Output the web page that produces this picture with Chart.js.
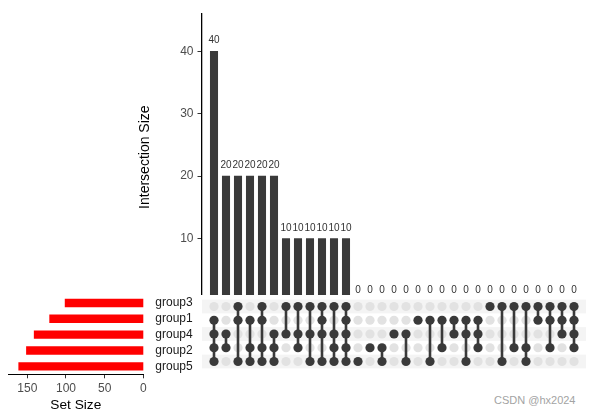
<!DOCTYPE html>
<html><head><meta charset="utf-8">
<script src="https://cdn.jsdelivr.net/npm/chart.js@4.4.1/dist/chart.umd.min.js"></script>
<style>
html,body{margin:0;padding:0;background:#fff;overflow:hidden;}
#wrap{position:relative;width:592px;height:415px;background:#fff;}
#clipA{position:absolute;left:0;top:0;width:592px;height:295px;overflow:hidden;}
#cA{position:absolute;left:0;top:0;width:592px;height:301px;}
#cB{position:absolute;left:0;top:295px;width:592px;height:78px;}
#cC{position:absolute;left:0;top:295px;width:202px;height:120px;}
#wm{position:absolute;left:494px;top:394px;font:11px 'Liberation Sans',Arial,sans-serif;line-height:13px;color:#a3a3a3;white-space:nowrap;}
</style></head>
<body><div id="wrap">
<div id="clipA"><canvas id="cA" width="592" height="301"></canvas></div>
<canvas id="cB" width="592" height="78"></canvas>
<canvas id="cC" width="202" height="120"></canvas>
<div id="wm">CSDN @hx2024</div>
</div>
<script>
const setNames = ['group3', 'group1', 'group4', 'group2', 'group5'];
const setSizes = [100, 120, 140, 150, 160];
const intersectionSizes = [40, 20, 20, 20, 20, 20, 10, 10, 10, 10, 10, 10,
  0, 0, 0, 0, 0, 0, 0, 0, 0, 0, 0, 0, 0, 0, 0, 0, 0, 0, 0];
const intersectionSets = [
  ['group1', 'group4', 'group2', 'group5'],
  ['group4', 'group2'],
  ['group3', 'group1', 'group5'],
  ['group1', 'group2', 'group5'],
  ['group3', 'group1', 'group2', 'group5'],
  ['group4', 'group2', 'group5'],
  ['group3', 'group4'],
  ['group3', 'group4', 'group2'],
  ['group3', 'group4', 'group5'],
  ['group3', 'group1', 'group4', 'group5'],
  ['group3', 'group4', 'group2', 'group5'],
  ['group3', 'group1', 'group4', 'group2', 'group5'],
  ['group5'],
  ['group2'],
  ['group2', 'group5'],
  ['group4'],
  ['group4', 'group5'],
  ['group1'],
  ['group1', 'group5'],
  ['group1', 'group2'],
  ['group1', 'group4'],
  ['group1', 'group4', 'group5'],
  ['group1', 'group4', 'group2'],
  ['group3'],
  ['group3', 'group5'],
  ['group3', 'group2'],
  ['group3', 'group2', 'group5'],
  ['group3', 'group1'],
  ['group3', 'group1', 'group2'],
  ['group3', 'group1', 'group4'],
  ['group3', 'group1', 'group4', 'group2']
];
const yTicks = [0, 10, 20, 30, 40];
const setTicks = [0, 50, 100, 150];

const FONT = "'Liberation Sans', Arial, Helvetica, sans-serif";
Chart.defaults.font.family = FONT;
Chart.defaults.animation = false;
Chart.defaults.events = [];
Chart.defaults.plugins.legend.display = false;
Chart.defaults.plugins.tooltip.enabled = false;

const DARK = '#3a3a3a';
const nCols = intersectionSizes.length;

// ---------- Intersection size bars ----------
const barLabels = {
  id: 'barLabels',
  afterDatasetsDraw(chart) {
    const ctx = chart.ctx;
    const meta = chart.getDatasetMeta(0);
    ctx.save();
    ctx.font = '10px ' + FONT;
    ctx.fillStyle = '#333';
    ctx.textAlign = 'center';
    ctx.textBaseline = 'middle';
    meta.data.forEach((bar, i) => {
      ctx.fillText(String(intersectionSizes[i]), bar.x, bar.y - 10.8);
    });
    ctx.restore();
  }
};

new Chart(document.getElementById('cA'), {
  type: 'bar',
  data: {
    datasets: [{
      data: intersectionSizes.map((v, i) => ({ x: i + 1, y: v })),
      backgroundColor: DARK,
      borderWidth: 0,
      barThickness: 7.4
    }]
  },
  options: {
    responsive: false,
    maintainAspectRatio: false,
    layout: { padding: { left: 0, right: 6, top: 13.3, bottom: 0 } },
    scales: {
      x: { type: 'linear', min: 0, max: nCols + 1, offset: false, display: false },
      y: {
        type: 'linear', min: 0, max: 46.1,
        afterBuildTicks(s) { s.ticks = yTicks.map(v => ({ value: v })); },
        afterFit(s) { s.width = 202; s.paddingTop = 0; s.paddingBottom = 0; },
        ticks: { color: '#4d4d4d', font: { size: 12 }, padding: 4 },
        grid: { display: true, drawOnChartArea: false, drawTicks: true, tickLength: 4.5, color: '#333', lineWidth: 1 },
        border: { display: true, color: '#000', width: 1.3 },
        title: { display: true, text: 'Intersection Size', color: '#000', font: { size: 14 }, padding: { top: 136.6, bottom: 0 } }
      }
    }
  },
  plugins: [barLabels]
});

// ---------- Matrix ----------
const stripes = {
  id: 'stripes',
  beforeDatasetsDraw(chart) {
    const { ctx, chartArea } = chart;
    const ys = chart.scales.y;
    const half = (ys.getPixelForValue(1) - ys.getPixelForValue(0)) / 2;
    ctx.save();
    ctx.fillStyle = '#f4f4f4';
    setNames.forEach((n, i) => {
      if (i % 2 === 0) {
        const c = ys.getPixelForValue(i);
        ctx.fillRect(chartArea.left, c - half, chartArea.right - chartArea.left, 2 * half);
      }
    });
    ctx.restore();
  }
};

const emptyPts = [], filledPts = [];
intersectionSets.forEach((members, ci) => {
  setNames.forEach(n => {
    if (members.includes(n)) filledPts.push({ x: ci + 1, y: n });
    else emptyPts.push({ x: ci + 1, y: n });
  });
});
const lineSets = [];
intersectionSets.forEach((members, ci) => {
  if (members.length < 2) return;
  const idx = members.map(m => setNames.indexOf(m));
  const top = setNames[Math.min(...idx)], bot = setNames[Math.max(...idx)];
  lineSets.push({
    type: 'line',
    data: [{ x: ci + 1, y: top }, { x: ci + 1, y: bot }],
    borderColor: DARK, borderWidth: 2.6, pointRadius: 0, fill: false, order: 1
  });
});

new Chart(document.getElementById('cB'), {
  type: 'scatter',
  data: {
    datasets: [
      { data: filledPts, pointRadius: 4.6, pointBackgroundColor: DARK, pointBorderWidth: 0, order: 0 },
      ...lineSets,
      { data: emptyPts, pointRadius: 4.6, pointBackgroundColor: '#e2e2e2', pointBorderWidth: 0, order: 2 }
    ]
  },
  options: {
    responsive: false,
    maintainAspectRatio: false,
    layout: { padding: { left: 202, right: 6, top: 0, bottom: 0 } },
    scales: {
      x: { type: 'linear', min: 0, max: nCols + 1, offset: false, display: false },
      y: { type: 'category', labels: setNames, offset: true, display: false }
    }
  },
  plugins: [stripes]
});

// ---------- Set sizes ----------
new Chart(document.getElementById('cC'), {
  type: 'bar',
  data: {
    labels: setNames,
    datasets: [{ data: setSizes, backgroundColor: '#ff0000', borderWidth: 0, barThickness: 6, inflateAmount: 1.2 }]
  },
  options: {
    indexAxis: 'y',
    responsive: false,
    maintainAspectRatio: false,
    layout: { padding: { left: 8.3, right: 0, top: 0, bottom: 0 } },
    scales: {
      y: {
        type: 'category', position: 'right', offset: true,
        afterFit(s) { s.width = 58.7; s.paddingTop = 0; s.paddingBottom = 0; },
        ticks: { color: '#1a1a1a', font: { size: 12 }, padding: 12, autoSkip: false },
        grid: { display: false, drawTicks: false },
        border: { display: false }
      },
      x: {
        type: 'linear', position: 'bottom', reverse: true, min: 0, max: 174.6,
        afterBuildTicks(s) { s.ticks = setTicks.map(v => ({ value: v })); },
        afterFit(s) { s.height = 40.7; s.paddingLeft = 0; s.paddingRight = 0; },
        ticks: { color: '#4d4d4d', font: { size: 12 }, padding: 3, maxRotation: 0, autoSkip: false },
        grid: { display: true, drawOnChartArea: false, drawTicks: true, tickLength: 4, color: '#333', lineWidth: 1 },
        border: { display: true, color: '#000', width: 1 },
        title: { display: true, text: 'Set Size', color: '#000', font: { size: 13.7 }, padding: { top: 0, bottom: 2 } }
      }
    }
  }
});
</script>
</body></html>
